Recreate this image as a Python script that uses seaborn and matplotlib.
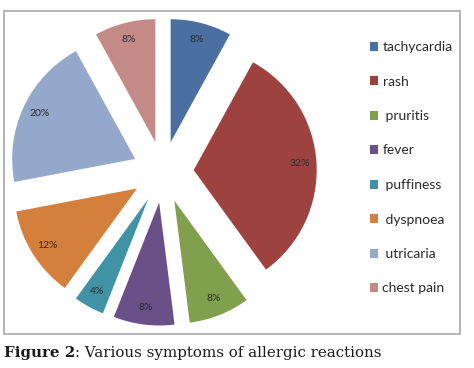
import matplotlib
matplotlib.use("Agg")
import matplotlib.pyplot as plt
import seaborn as sns
from matplotlib.patches import Patch, Rectangle

sns.set_theme(style="white")

categories = ["tachycardia", "rash", " pruritis", "fever", " puffiness", " dyspnoea", " utricaria", "chest pain"]
values = [8, 32, 8, 8, 4, 12, 20, 8]
colors = ["#4A6FA0", "#9E4240", "#80A04E", "#6A5088", "#3F93A4", "#D57F3C", "#93A8CB", "#C48A88"]
caption_bold = "Figure 2"
caption_rest = ": Various symptoms of allergic reactions"

W, H = 474, 368
fig = plt.figure(figsize=(W / 100, H / 100), dpi=100)
fig.patch.set_facecolor("white")

# frame
fig.patches.append(Rectangle((3.5 / W, 1 - 333.5 / H), 456.5 / W, 322.5 / H,
                             transform=fig.transFigure, fill=False,
                             edgecolor="#B4B4B4", linewidth=1.4))

# pie axes: center (163,172) px, radius 123 px
R = 123
cx, cy = 163, 172
lim = 1.3
side = 2 * lim * R
ax = fig.add_axes([(cx - side / 2) / W, (H - cy - side / 2) / H, side / W, side / H])

wedges, texts, autotexts = ax.pie(
    values, colors=colors, startangle=90, counterclock=False,
    explode=[0.25] * len(values), radius=1.0,
    autopct=lambda p: f"{p:.0f}%", pctdistance=0.86,
    textprops=dict(fontsize=7.5, color="#2a2a2a", family="Lato"),
    wedgeprops=dict(linewidth=0),
)
ax.set_xlim(-lim, lim)
ax.set_ylim(-lim, lim)
ax.axis("off")

handles = [Patch(facecolor=c, edgecolor="none") for c in colors]
leg = fig.legend(handles, categories, loc="upper left",
                 bbox_to_anchor=(370 / W, 1 - 41 / H), frameon=False,
                 prop=dict(family="Lato", size=10), labelspacing=1.62,
                 handlelength=0.6, handleheight=0.6, handletextpad=0.3,
                 borderaxespad=0, borderpad=0)
for t in leg.get_texts():
    t.set_color("#2a2a2a")

# caption
t1 = fig.text(4 / W, 1 - 353 / H, caption_bold, fontsize=10.8, family="DejaVu Serif",
              fontweight="bold", va="center", ha="left", color="#1a1a1a")
fig.canvas.draw()
bb = t1.get_window_extent()
fig.text(bb.x1 / W, 1 - 353 / H, caption_rest, fontsize=10.8, family="DejaVu Serif",
         va="center", ha="left", color="#1a1a1a")

fig.savefig("out.png", dpi=100, facecolor="white")
